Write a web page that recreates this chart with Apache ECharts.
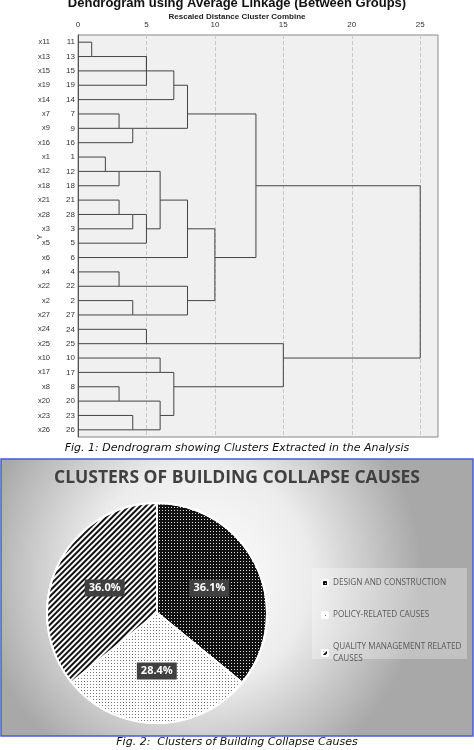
<!DOCTYPE html>
<html><head><meta charset="utf-8">
<script src="https://cdn.jsdelivr.net/npm/echarts@6/dist/echarts.min.js"></script>
<style>html,body{margin:0;padding:0;background:#fff}#c{width:474px;height:750px}</style>
</head><body><div id="c"></div>
<script>
const leafNums = [11,13,15,19,14,7,9,16,1,12,18,21,28,3,5,6,4,22,2,27,24,25,10,17,8,20,23,26];
const leafNames = ['x11','x13','x15','x19','x14','x7','x9','x16','x1','x12','x18','x21','x28','x3','x5','x6','x4','x22','x2','x27','x24','x25','x10','x17','x8','x20','x23','x26'];
// merges: [childA, childB, distance]; 'M#' refers to an earlier merge
const merges = [
 [11,13,1],['M0',15,5],['M1',19,5],['M2',14,7],
 [7,9,3],['M4',16,4],['M3','M5',8],
 [1,12,2],['M7',18,3],[21,28,3],['M9',3,4],['M10',5,5],['M8','M11',6],['M12',6,8],
 [4,22,3],[2,27,4],['M14','M15',8],['M13','M16',10],['M6','M17',13],
 [24,25,5],[10,17,6],[8,20,3],[23,26,4],['M21','M22',6],['M20','M23',7],['M19','M24',15],
 ['M18','M25',25]
];
const distTicks = [0,5,10,15,20,25];
const pieNames = ['DESIGN AND CONSTRUCTION','POLICY-RELATED CAUSES','QUALITY MANAGEMENT RELATED CAUSES'];
const pieValues = [36.1,28.4,36.0];

const nodes = [];
function get(c){ if(typeof c==='string') return nodes[+c.slice(1)]; return {h:0,y:leafNums.indexOf(c)}; }
const seg = [];
merges.forEach(m=>{
  const a=get(m[0]), b=get(m[1]), h=m[2];
  seg.push([a.h,a.y],[h,a.y],['-','-']);
  seg.push([b.h,b.y],[h,b.y],['-','-']);
  seg.push([h,a.y],[h,b.y],['-','-']);
  nodes.push({h:h,y:(a.y+b.y)/2});
});

const chart = echarts.init(document.getElementById('c'));
chart.setOption({
  animation:false,
  graphic:[
    {type:'rect',z:-10,shape:{x:1,y:459,width:472,height:277},style:{stroke:'#4a5bd0',lineWidth:1.5,
      fill:{type:'radial',x:0.42,y:0.42,r:0.8,colorStops:[{offset:0,color:'#ffffff'},{offset:0.5,color:'#ececec'},{offset:1,color:'#a8a8a8'}]}}},
    {type:'rect',z:-5,shape:{x:312,y:568,width:155,height:91},style:{fill:'rgba(255,255,255,0.3)'}},
    {type:'text',left:'center',top:-3,style:{text:'Dendrogram using Average Linkage (Between Groups)',font:'bold 13px Liberation Sans',fill:'#111'}},
    {type:'text',left:'center',top:13,style:{text:'Rescaled Distance Cluster Combine',font:'bold 8px Liberation Sans',fill:'#222'}},
    {type:'text',x:40,y:237,rotation:Math.PI/2,style:{text:'Y',font:'8px Liberation Sans',fill:'#333',align:'center',verticalAlign:'middle'}},
    {type:'text',left:'center',top:443,style:{text:'Fig. 1: Dendrogram showing Clusters Extracted in the Analysis',font:'italic 11px DejaVu Sans',fill:'#111'}},
    {type:'text',left:'center',top:737,style:{text:'Fig. 2:  Clusters of Building Collapse Causes',font:'italic 11px DejaVu Sans',fill:'#111'}},
    {type:'text',left:'center',top:469,style:{text:'CLUSTERS OF BUILDING COLLAPSE CAUSES',font:'bold 17.5px Open Sans',fill:'#404040'}}
  ],
  grid:{left:78,right:36,top:35,height:402,show:true,backgroundColor:'#f0f0f0',borderColor:'#888',borderWidth:1},
  xAxis:{type:'value',position:'top',min:0,max:26.3,
    axisLine:{show:false},axisTick:{show:false},
    axisLabel:{fontSize:8,color:'#333',margin:6,fontFamily:'Liberation Sans',customValues:distTicks},
    splitLine:{show:true,lineStyle:{type:'dashed',color:'#c8c8c8'}},
    customValues:distTicks},
  yAxis:[
    {type:'category',data:leafNums.map(String),inverse:true,axisTick:{show:false},
     axisLine:{show:true,lineStyle:{color:'#555'}},axisLabel:{fontSize:8,color:'#333',margin:3}},
    {type:'category',data:leafNames,inverse:true,position:'left',offset:28,axisTick:{show:false},
     axisLine:{show:false},axisLabel:{fontSize:7.5,color:'#333',margin:0}}
  ],
  legend:{orient:'vertical',left:316,top:572,itemWidth:6,itemHeight:6,itemGap:20,
    textStyle:{fontSize:8.2,color:'#595959',fontFamily:'Open Sans',width:140,overflow:'break',lineHeight:12},
    data:pieNames},
  series:[
    {type:'line',xAxisIndex:0,yAxisIndex:0,data:seg,showSymbol:false,connectNulls:false,
     lineStyle:{color:'#444',width:1},silent:true},
    {type:'pie',center:[157,613],radius:[0,110],startAngle:90,clockwise:true,
     itemStyle:{borderColor:'#fff',borderWidth:2},
     label:{position:'inside',formatter:p=>p.value.toFixed(1)+'%',color:'#fff',backgroundColor:'#404040',
       fontWeight:'bold',fontSize:11,fontFamily:'Open Sans',padding:[3,4]},
     labelLine:{show:false},
     data:[
      {name:pieNames[0],value:pieValues[0],itemStyle:{color:'#111',decal:{symbol:'rect',symbolSize:1,color:'#ddd',dashArrayX:[1,2],dashArrayY:[1,2]}}},
      {name:pieNames[1],value:pieValues[1],itemStyle:{color:'#fff',decal:{symbol:'rect',symbolSize:1,color:'#777',dashArrayX:[1,2],dashArrayY:[1,2]}}},
      {name:pieNames[2],value:pieValues[2],itemStyle:{color:'#fff',decal:{symbol:'rect',symbolSize:1,color:'#111',dashArrayX:[1,0],dashArrayY:[2,2],rotation:-Math.PI/4}}}
     ]}
  ]
});
</script></body></html>
